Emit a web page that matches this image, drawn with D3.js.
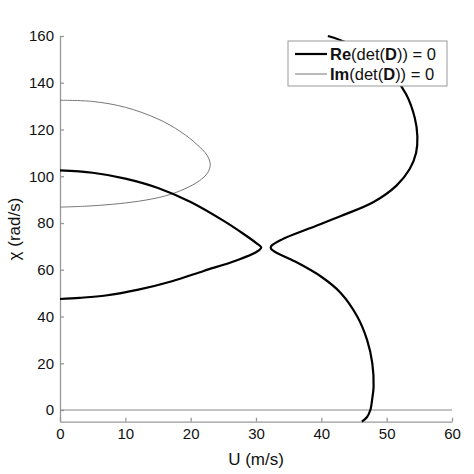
<!DOCTYPE html><html><head><script src="https://cdn.jsdelivr.net/npm/d3@7"></script>
<style>body{margin:0;background:#fff}text{font-family:Arial,"Liberation Sans",sans-serif}</style></head><body><svg id="c" width="474" height="474"></svg>
<script>
const reCurveA=[[0,102.5],[5,101.5],[10,99],[15,95],[20,89],[25,81],[28,75.5],[30,71.5],[30.8,69.5],[30,67.5],[27,64],[22,59.5],[17,55],[12,51.5],[7,49],[3,48],[0,47.5]];
const reCurveB=[[41,160],[44,157],[48,150],[51,143],[53,135],[54.3,125],[54.7,117],[54.5,110],[53.5,103],[51.5,96],[48,89],[43,83],[38,77.5],[34,73],[32.3,70],[32.3,69],[33,67.5],[36,63.5],[40,57],[43,50],[45.5,40],[47,30],[47.8,20],[48,10],[47.8,5],[47.5,0],[47,-3],[46.2,-5]];
const imCurve=[[0,132.5],[5,132],[10,129.5],[15,124.5],[18.5,119],[21,113.5],[22.5,109],[23,105],[22.6,101.5],[21.3,98],[19,94.5],[16,91.5],[12,89.3],[8,88],[4,87.2],[0,86.8]];
const imZero=[[0,0],[60,0]];
const xTicks=[0,10,20,30,40,50,60], yTicks=[0,20,40,60,80,100,120,140,160];
const svg=d3.select("#c");
const x=d3.scaleLinear().domain([0,60]).range([60,452]);
const y=d3.scaleLinear().domain([-5,160]).range([421.7,36]);
const ax="#999";
const xa=svg.append("g").attr("transform","translate(0,421.7)").call(d3.axisBottom(x).tickValues(xTicks).tickSizeInner(-4).tickSizeOuter(0).tickPadding(7));
const ya=svg.append("g").attr("transform","translate(60,0)").call(d3.axisLeft(y).tickValues(yTicks).tickSizeInner(-4).tickSizeOuter(0).tickPadding(6));
[xa,ya].forEach(a=>{a.selectAll("path,line").attr("stroke",ax).attr("stroke-width",1.3);a.selectAll("text").attr("font-size",15).attr("fill","#111").attr("font-family","Arial,Liberation Sans,sans-serif");});
const line=d3.line().x(d=>x(d[0])).y(d=>y(d[1])).curve(d3.curveCatmullRom);
svg.append("path").datum(imZero).attr("d",line).attr("fill","none").attr("stroke","#888").attr("stroke-width",1);
svg.append("path").datum(imCurve).attr("d",line).attr("fill","none").attr("stroke","#777").attr("stroke-width",1);
[reCurveA,reCurveB].forEach(c=>svg.append("path").datum(c).attr("d",line).attr("fill","none").attr("stroke","#000").attr("stroke-width",2.2));
svg.append("text").attr("x",256).attr("y",465).attr("text-anchor","middle").attr("font-size",17).attr("fill","#111").text("U (m/s)");
svg.append("text").attr("transform","translate(20,229) rotate(-90)").attr("text-anchor","middle").attr("font-size",17).attr("fill","#111").text("χ (rad/s)");
const lg=svg.append("g");
lg.append("rect").attr("x",288).attr("y",41).attr("width",159).attr("height",45).attr("fill","#fff").attr("stroke","#999");
const items=[{t:"Re",c:"#000",w:2.2,yy:54},{t:"Im",c:"#777",w:1,yy:74}];
items.forEach(it=>{lg.append("line").attr("x1",295).attr("x2",327).attr("y1",it.yy).attr("y2",it.yy).attr("stroke",it.c).attr("stroke-width",it.w);
const t=lg.append("text").attr("x",330).attr("y",it.yy+6).attr("font-size",16.5).attr("fill","#111");
t.append("tspan").attr("font-weight","bold").text(it.t);t.append("tspan").text("(det(");t.append("tspan").attr("font-weight","bold").text("D");t.append("tspan").text(")) = 0");});
</script></body></html>
